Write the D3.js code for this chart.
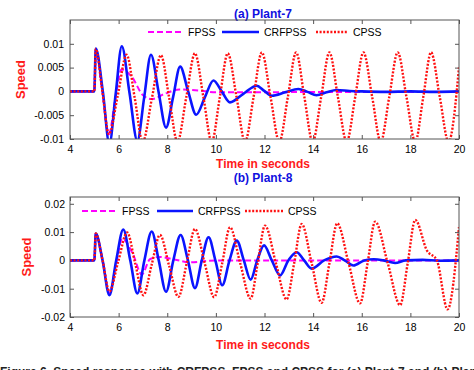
<!DOCTYPE html>
<html>
<head>
<meta charset="utf-8">
<script src="https://cdn.jsdelivr.net/npm/d3@7"></script>
<style>
  body { margin: 0; background: #fff; }
  svg { display: block; font-family: "Liberation Sans", Arial, sans-serif; }
</style>
</head>
<body>
<div id="chart"></div>
<script>
// ---- data ----
const xTicks = [4, 6, 8, 10, 12, 14, 16, 18, 20];

// (a) Plant-7
const p7Ticks = [-0.01, -0.005, 0, 0.005, 0.01];
const p7FpssT = [4, 5, 5.06, 5.33, 5.6, 5.85, 6.12, 6.55, 7.0, 7.36, 7.9, 8.5, 9.3, 10, 11, 12, 14, 16, 18, 20];
const p7FpssV = [0, 0, 0.0089, 0, -0.009, -0.002, 0.0046, 0.003, -0.0008, -0.0016, -0.0005, 0.0004, 0.0002, -0.0002, -0.0002, -0.0002, -0.0001, -0.0001, -0.0001, -0.0001];
const p7CrfT = [4, 5, 5.06, 5.35, 5.62, 5.88, 6.13, 6.45, 6.77, 7.05, 7.33, 7.64, 7.95, 8.24, 8.53, 8.86, 9.19, 9.55, 9.9, 10.24, 10.58, 11.13, 11.68, 11.99, 12.3, 12.85, 13.39, 13.77, 14.14, 14.55, 14.97, 15.5, 16, 17, 18, 19, 20];
const p7CrfV = [0, 0, 0.009, 0, -0.011, -0.0005, 0.0095, -0.0004, -0.0104, -0.0013, 0.0077, 0, -0.0076, -0.0012, 0.0052, 0, -0.0049, -0.0012, 0.0023, 0, -0.0023, -0.0005, 0.0012, 0.0001, -0.0009, -0.0002, 0.0005, -0.0001, -0.0008, -0.0002, 0.0003, 0.0001, 0, -0.0001, 0, -0.0001, 0];
const p7CpssT = [4, 5, 5.06, 5.33, 5.6, 5.96, 6.33, 6.66, 6.99, 7.37, 7.74, 8.08, 8.42, 8.78, 9.14, 9.49, 9.83, 10.16, 10.49, 10.85, 11.2, 11.55, 11.89, 12.25, 12.61, 12.96, 13.3, 13.64, 13.98, 14.33, 14.67, 15.02, 15.38, 15.73, 16.07, 16.43, 16.78, 17.13, 17.48, 17.84, 18.2, 18.53, 18.85, 19.21, 19.57, 20];
const p7CpssV = [0, 0, 0.0089, 0, -0.009, -0.001, 0.0077, -0.0013, -0.0106, -0.0014, 0.0076, -0.0014, -0.0106, -0.0013, 0.008, -0.0013, -0.0106, -0.0013, 0.008, -0.0012, -0.0106, -0.0012, 0.0082, -0.0012, -0.0106, -0.0012, 0.0082, -0.0012, -0.0106, -0.0012, 0.0082, -0.0012, -0.0106, -0.0012, 0.0082, -0.0012, -0.0106, -0.0012, 0.0082, -0.0012, -0.0106, -0.0012, 0.0082, -0.0012, -0.0106, 0.005];

// (b) Plant-8
const p8Ticks = [-0.02, -0.01, 0, 0.01, 0.02];
const p8FpssT = [4, 5, 5.06, 5.34, 5.62, 5.9, 6.15, 6.6, 6.95, 7.3, 7.7, 8.3, 8.95, 9.6, 10.5, 12, 14, 16, 18, 20];
const p8FpssV = [0, 0, 0.0095, 0, -0.0115, -0.001, 0.0076, 0.002, -0.005, 0.0005, 0.0012, 0.0003, -0.0007, -0.0002, 0, 0, 0, 0, 0, 0];
const p8CrfT = [4, 5, 5.06, 5.34, 5.62, 5.9, 6.19, 6.48, 6.77, 7.06, 7.36, 7.65, 7.95, 8.25, 8.55, 8.85, 9.14, 9.42, 9.7, 9.98, 10.26, 10.56, 10.86, 11.15, 11.43, 11.7, 11.98, 12.3, 12.64, 12.98, 13.32, 13.63, 13.94, 14.45, 14.97, 15.3, 15.66, 16.1, 16.5, 16.9, 17.37, 17.8, 18.5, 19.2, 20];
const p8CrfV = [0, 0, 0.0095, 0, -0.0123, 0, 0.0109, 0, -0.0117, 0, 0.0102, 0, -0.0111, 0, 0.009, 0, -0.0098, 0, 0.0082, 0, -0.0088, 0, 0.007, 0, -0.0068, 0, 0.0053, 0, -0.0053, 0, 0.0029, 0, -0.0029, 0, 0.0014, 0, -0.0018, 0, 0.0004, 0, -0.0009, 0, 0.0002, -0.0001, 0];
const p8CpssT = [4, 5, 5.06, 5.34, 5.62, 5.98, 6.35, 6.68, 7.02, 7.36, 7.7, 8.08, 8.46, 8.8, 9.14, 9.54, 9.93, 10.26, 10.58, 11.0, 11.43, 11.72, 12.02, 12.47, 12.91, 13.22, 13.53, 13.94, 14.35, 14.67, 14.99, 15.46, 15.93, 16.24, 16.55, 17.07, 17.58, 17.89, 18.2, 18.68, 19.09, 19.53, 20];
const p8CpssV = [0, 0, 0.0095, 0, -0.011, -0.0005, 0.0099, -0.001, -0.0123, -0.0015, 0.009, -0.002, -0.0129, -0.001, 0.0111, -0.001, -0.013, -0.001, 0.0117, -0.001, -0.0135, -0.001, 0.0123, -0.001, -0.0138, -0.001, 0.0129, -0.001, -0.015, -0.001, 0.0131, -0.001, -0.0152, -0.001, 0.0137, -0.001, -0.0158, -0.001, 0.0143, 0.0035, 0, -0.0173, 0.0117];

const seriesNames = ['FPSS', 'CRFPSS', 'CPSS'];

const width = 474, height = 370;
const svg = d3.select('#chart').append('svg')
    .attr('width', width)
    .attr('height', height);

const styles = {
    FPSS: { color: '#ff00ff', width: 2, dash: '6,3' },
    CRFPSS: { color: '#0a14ff', width: 2.6, dash: null },
    CPSS: { color: '#ff1010', width: 2.4, dash: '2,1.6' }
};

function zip(ts, vs) {
    return ts.map((t, i) => ({ t: t, v: vs[i] }));
}

function drawPanel(cfg) {
    const x = d3.scaleLinear().domain([4, 20]).range([70, 459]);
    const y = d3.scaleLinear().domain(cfg.yDomain).range([cfg.bottom, cfg.top]);
    const g = svg.append('g');

    g.append('clipPath').attr('id', cfg.id)
        .append('rect')
        .attr('x', 70).attr('y', cfg.top)
        .attr('width', 389).attr('height', cfg.bottom - cfg.top);

    // title
    g.append('text')
        .attr('x', 263).attr('y', cfg.titleY)
        .attr('text-anchor', 'middle')
        .attr('font-size', 12).attr('font-weight', 'bold')
        .attr('fill', '#1010e0')
        .text(cfg.title);

    // axes (ticks pointing inward on all four sides)
    const axisStyle = sel => {
        sel.select('.domain').remove();
        sel.selectAll('line').attr('stroke', '#555');
        sel.selectAll('text').attr('fill', '#000').attr('font-size', 10.5).attr('font-family', null);
    };
    g.append('g').attr('transform', `translate(0,${cfg.bottom})`)
        .call(d3.axisBottom(x).tickValues(xTicks).tickSize(-4).tickPadding(7).tickFormat(d3.format('d')))
        .call(axisStyle);
    g.append('g').attr('transform', `translate(0,${cfg.top})`)
        .call(d3.axisTop(x).tickValues(xTicks).tickSize(-4).tickFormat(''))
        .call(axisStyle);
    g.append('g').attr('transform', 'translate(70,0)')
        .call(d3.axisLeft(y).tickValues(cfg.yTicks).tickSize(-4).tickPadding(cfg.yPad).tickFormat(d => String(+d.toFixed(3))))
        .call(axisStyle);
    g.append('g').attr('transform', 'translate(459,0)')
        .call(d3.axisRight(y).tickValues(cfg.yTicks).tickSize(-4).tickFormat(''))
        .call(axisStyle);

    // curves
    const line = d3.line()
        .x(d => x(d.t))
        .y(d => y(d.v))
        .curve(d3.curveMonotoneX);
    const curves = g.append('g').attr('clip-path', `url(#${cfg.id})`);
    cfg.series.forEach(s => {
        const st = styles[s.name];
        curves.append('path')
            .datum(zip(s.t, s.v))
            .attr('d', line)
            .attr('fill', 'none')
            .attr('stroke', st.color)
            .attr('stroke-width', st.width)
            .attr('stroke-dasharray', st.dash)
            .attr('stroke-linejoin', 'round');
    });

    // frame
    g.append('rect')
        .attr('x', 70).attr('y', cfg.top)
        .attr('width', 389).attr('height', cfg.bottom - cfg.top)
        .attr('fill', 'none').attr('stroke', '#555').attr('stroke-width', 1);

    // legend
    const leg = g.append('g');
    seriesNames.forEach((name, i) => {
        const st = styles[name];
        const lx = cfg.legendX[i];
        leg.append('line')
            .attr('x1', lx).attr('x2', lx + cfg.legendLen[i])
            .attr('y1', cfg.legendY).attr('y2', cfg.legendY)
            .attr('stroke', st.color)
            .attr('stroke-width', st.width)
            .attr('stroke-dasharray', st.dash);
        leg.append('text')
            .attr('x', lx + cfg.legendLen[i] + 5).attr('y', cfg.legendY + 3.8)
            .attr('font-size', 10.5).attr('fill', '#000')
            .text(name);
    });

    // axis labels
    g.append('text')
        .attr('x', 263).attr('y', cfg.xLabelY)
        .attr('text-anchor', 'middle')
        .attr('font-size', 12).attr('font-weight', 'bold')
        .attr('fill', '#ff1a1a')
        .text('Time in seconds');
    g.append('text')
        .attr('transform', `translate(${cfg.yLabelX},${(cfg.top + cfg.bottom) / 2}) rotate(-90)`)
        .attr('text-anchor', 'middle')
        .attr('font-size', 13).attr('font-weight', 'bold')
        .attr('fill', '#ff1a1a')
        .text('Speed');
}

drawPanel({
    id: 'clipA', title: '(a) Plant-7', titleY: 18,
    top: 20, bottom: 139, yDomain: [-0.01, 0.015], yTicks: p7Ticks, yPad: 6,
    xLabelY: 167.5, yLabelX: 25,
    legendY: 32, legendX: [148, 222, 316], legendLen: [35, 37, 32],
    series: [
        { name: 'FPSS', t: p7FpssT, v: p7FpssV },
        { name: 'CRFPSS', t: p7CrfT, v: p7CrfV },
        { name: 'CPSS', t: p7CpssT, v: p7CpssV }
    ]
});

drawPanel({
    id: 'clipB', title: '(b) Plant-8', titleY: 182,
    top: 197, bottom: 317, yDomain: [-0.02, 0.0224], yTicks: p8Ticks, yPad: 5,
    xLabelY: 349, yLabelX: 31,
    legendY: 211, legendX: [82, 157, 245], legendLen: [35, 36, 38],
    series: [
        { name: 'FPSS', t: p8FpssT, v: p8FpssV },
        { name: 'CRFPSS', t: p8CrfT, v: p8CrfV },
        { name: 'CPSS', t: p8CpssT, v: p8CpssV }
    ]
});

// caption (cut off at the bottom edge of the picture, as in the source)
svg.append('text')
    .attr('x', 0).attr('y', 376)
    .attr('font-size', 12).attr('font-weight', 'bold')
    .attr('fill', '#222')
    .text('Figure 6. Speed response with CRFPSS, FPSS and CPSS for (a) Plant-7 and (b) Plant-8');
</script>
</body>
</html>
